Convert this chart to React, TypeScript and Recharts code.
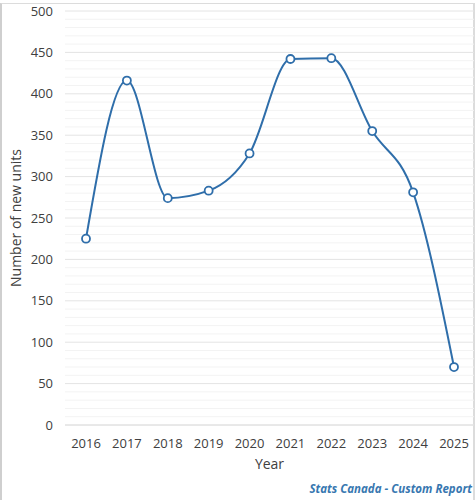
import { LineChart, Line, XAxis, YAxis, CartesianGrid, Label } from 'recharts'

// values
const years = ['2016', '2017', '2018', '2019', '2020', '2021', '2022', '2023', '2024', '2025']
const newUnits = [225, 416, 274, 283, 328, 442, 443, 355, 281, 70]
const yTicks = [0, 50, 100, 150, 200, 250, 300, 350, 400, 450, 500]
const minorLines = [10, 20, 30, 40, 60, 70, 80, 90, 110, 120, 130, 140, 160, 170, 180, 190, 210, 220, 230, 240,
  260, 270, 280, 290, 310, 320, 330, 340, 360, 370, 380, 390, 410, 420, 430, 440, 460, 470, 480, 490]

const data = years.map((year, i) => ({ year, units: newUnits[i] }))

const font = '"Open Sans", "Noto Sans", sans-serif'

export default function App() {
  return (
    <div style={{ position: 'absolute', left: 0, top: 0, width: 476, height: 500, background: '#fff', fontFamily: font }}>
      <div style={{ position: 'absolute', left: 0, top: 3, width: 471, height: 497, borderLeft: '2px solid #cfcfcf', borderTop: '1px solid #dcdcdc', borderRight: '2px solid #dcdcdc' }} />
      <LineChart width={476} height={500} data={data} margin={{ top: 11, right: 2, left: 0, bottom: 0 }}>
        <CartesianGrid vertical={false} horizontalValues={minorLines} stroke="#f3f3f3" />
        <CartesianGrid vertical={false} stroke="#e4e4e4" />
        <XAxis
          dataKey="year"
          height={75}
          padding={{ left: 21, right: 20 }}
          tick={{ fill: '#404040', fontSize: 13, fontFamily: font }}
          tickLine={false}
          axisLine={{ stroke: '#e0e0e0' }}
          tickMargin={8}
        >
          <Label value="Year" position="insideTop" offset={34} style={{ fill: '#404040', fontSize: 14, fontFamily: font }} />
        </XAxis>
        <YAxis
          width={65}
          domain={[0, 500]}
          ticks={yTicks}
          interval={0}
          tick={{ fill: '#404040', fontSize: 13, fontFamily: font }}
          tickLine={false}
          axisLine={false}
          tickMargin={6}
        >
          <Label value="Number of new units" angle={-90} position="insideLeft" offset={16} style={{ fill: '#404040', fontSize: 14, fontFamily: font, textAnchor: 'middle' }} />
        </YAxis>
        <Line
          type="monotone"
          dataKey="units"
          stroke="#2f6eaa"
          strokeWidth={2}
          dot={{ r: 4, fill: '#fff', stroke: '#2f6eaa', strokeWidth: 1.8 }}
          isAnimationActive={false}
        />
      </LineChart>
      <div style={{ position: 'absolute', right: 4, top: 481, fontSize: 11.5, fontWeight: 700, fontStyle: 'italic', color: '#3777b0' }}>
        Stats Canada - Custom Report
      </div>
    </div>
  )
}
